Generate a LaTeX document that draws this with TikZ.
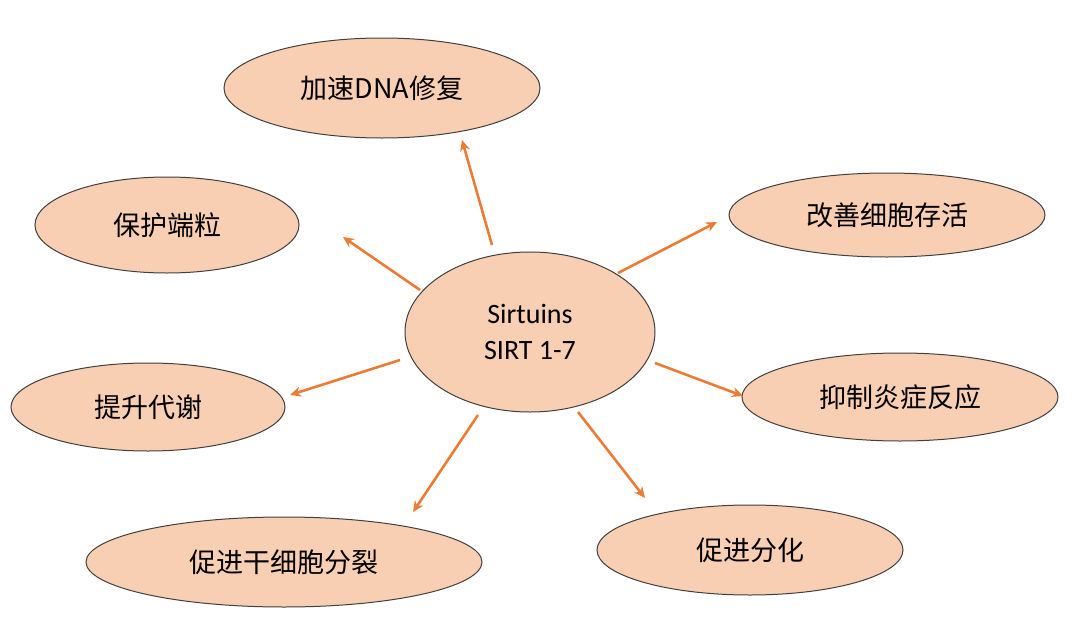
\documentclass[tikz,border=0pt]{standalone}
\usepackage{fontspec}
\setmainfont{Carlito}
\newfontfamily\cjk{Noto Sans CJK SC}
\usetikzlibrary{shapes.geometric,arrows.meta}
\begin{document}
\begin{tikzpicture}[x=1pt,y=-1pt,
  bub/.style={ellipse,draw=black!75,line width=1pt,fill=peach,inner sep=0pt,font=\cjk\fontsize{27}{30}\selectfont},
  arr/.style={draw=orng,line width=2.6pt,-{Stealth[length=11pt,width=10pt]}}]
\definecolor{peach}{HTML}{F8CFB2}
\definecolor{orng}{HTML}{EC7C35}
\useasboundingbox (0,0) rectangle (1080,640);
\fill[white] (0,0) rectangle (1080,640);
\node[bub,minimum width=316pt,minimum height=100pt] (dna) at (382,88) {加速DNA修复};
\node[bub,minimum width=264pt,minimum height=96pt] (telo) at (167,225) {保护端粒};
\node[bub,minimum width=316pt,minimum height=84pt] (surv) at (887,215) {改善细胞存活};
\node[bub,minimum width=250pt,minimum height=160pt,font=\fontsize{28}{36}\selectfont,align=center] (sirt) at (530,332) {Sirtuins\\SIRT 1-7};
\node[bub,minimum width=274pt,minimum height=88pt] (meta) at (148,407) {提升代谢};
\node[bub,minimum width=316pt,minimum height=88pt] (infl) at (900,397) {抑制炎症反应};
\node[bub,minimum width=396pt,minimum height=90pt] (stem) at (284,562) {促进干细胞分裂};
\node[bub,minimum width=306pt,minimum height=90pt] (diff) at (750,550) {促进分化};
\coordinate (a1) at (492,245); \coordinate (b1) at (462,140);
\coordinate (a2) at (420,290); \coordinate (b2) at (343,237);
\coordinate (a3) at (618,273); \coordinate (b3) at (717,222);
\coordinate (a4) at (400,360); \coordinate (b4) at (290,395);
\coordinate (a5) at (655,363); \coordinate (b5) at (743,396);
\coordinate (a6) at (478,415); \coordinate (b6) at (413,512);
\coordinate (a7) at (578,412); \coordinate (b7) at (645,498);
\foreach \i in {1,...,7} \draw[arr] (a\i) -- (b\i);
\end{tikzpicture}
\end{document}
